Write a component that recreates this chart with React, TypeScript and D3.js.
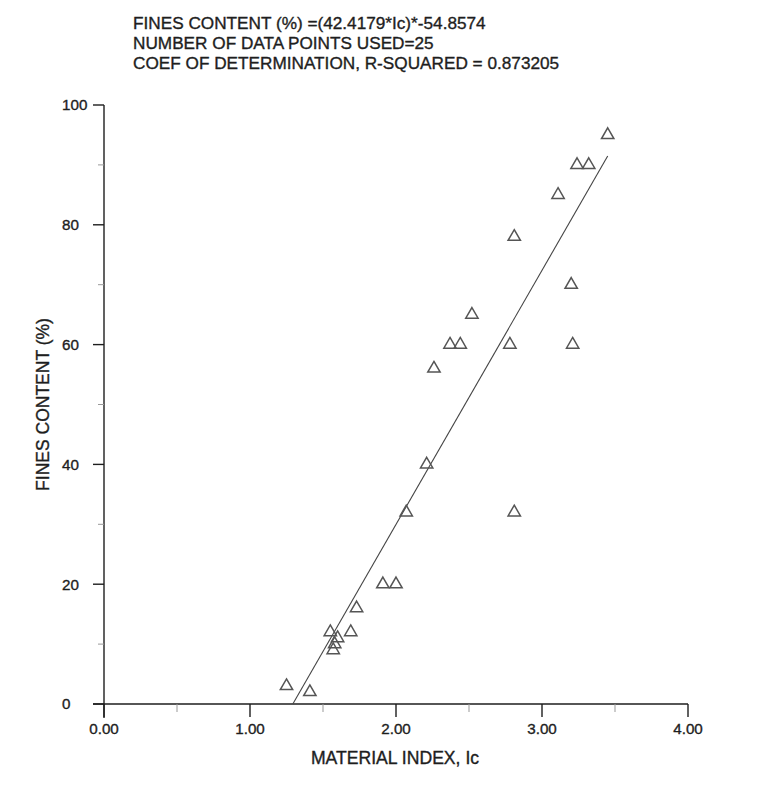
import { scaleLinear, range, symbol, symbolTriangle, line } from "d3";

const width = 768;
const height = 791;

// chart values
const materialIndex = [
  3.45, 3.24, 3.32, 3.11, 2.81, 3.2, 2.52, 2.37, 2.44, 2.78, 3.21, 2.26, 2.21,
  2.07, 2.81, 1.91, 2.0, 1.73, 1.69, 1.55, 1.6, 1.58, 1.57, 1.25, 1.41,
];
const finesContent = [
  95, 90, 90, 85, 78, 70, 65, 60, 60, 60, 60, 56, 40, 32, 32, 20, 20, 16, 12,
  12, 11, 10, 9, 3, 2,
];
const xTicks = [0, 1, 2, 3, 4];
const yTicks = [0, 20, 40, 60, 80, 100];
const headerLines = [
  "FINES CONTENT (%) =(42.4179*Ic)*-54.8574",
  "NUMBER OF DATA POINTS USED=25",
  "COEF OF DETERMINATION, R-SQUARED = 0.873205",
];
const slope = 42.4179;
const intercept = -54.8574;

const font = "'Liberation Sans', Arial, sans-serif";
const ink = "#1e1e1e";

const x = scaleLinear().domain([0, 4]).range([104, 688]);
const y = scaleLinear().domain([0, 100]).range([704, 105]);

// heavy-ish text like the scanned original
const textStyle = {
  fontFamily: font,
  fill: ink,
  stroke: ink,
  strokeWidth: 0.35,
};

const App = () => {
  const tri = symbol().type(symbolTriangle).size(66)()!;
  const x0 = -intercept / slope;
  const x1 = Math.max(...materialIndex);
  const fit = line<number>()
    .x((d) => x(d))
    .y((d) => y(slope * d + intercept));

  return (
    <svg
      width={width}
      height={height}
      style={{ position: "absolute", left: 0, top: 0, background: "#fff" }}
    >
      <g style={textStyle} fontSize={17.2}>
        {headerLines.map((t, i) => (
          <text key={t} x={133} y={29 + i * 20}>
            {t}
          </text>
        ))}
      </g>

      {/* axes */}
      <g stroke={ink} strokeWidth={1.4}>
        <line x1={x(0)} x2={x(0)} y1={y(100)} y2={y(0) + 14} />
        <line x1={x(0) - 11} x2={x(4)} y1={y(0)} y2={y(0)} />
        {yTicks.map((t) => (
          <line key={t} x1={x(0) - 11} x2={x(0)} y1={y(t)} y2={y(t)} />
        ))}
        {xTicks.map((t) => (
          <line key={t} x1={x(t)} x2={x(t)} y1={y(0)} y2={y(0) + 13} />
        ))}
      </g>
      <g stroke="#999" strokeWidth={1}>
        {range(10, 100, 20).map((t) => (
          <line key={t} x1={x(0) - 6} x2={x(0)} y1={y(t)} y2={y(t)} />
        ))}
        {range(0.5, 4, 1).map((t) => (
          <line key={t} x1={x(t)} x2={x(t)} y1={y(0)} y2={y(0) + 8} />
        ))}
      </g>

      <g style={textStyle} fontSize={15.2}>
        {yTicks.map((t) => (
          <text key={t} x={62} y={y(t)} dy="0.35em">
            {t}
          </text>
        ))}
        {xTicks.map((t) => (
          <text key={t} x={x(t)} y={734} textAnchor="middle">
            {t.toFixed(2)}
          </text>
        ))}
      </g>
      <text style={textStyle} fontSize={17.6} textAnchor="middle" x={395} y={764}>
        MATERIAL INDEX, Ic
      </text>
      <text
        style={textStyle}
        fontSize={17.5}
        textAnchor="middle"
        transform={`translate(49, ${y(50)}) rotate(-90)`}
      >
        FINES CONTENT (%)
      </text>

      <path d={fit([x0, x1])!} stroke="#444" strokeWidth={1.1} fill="none" />

      <g fill="none" stroke="#555" strokeWidth={1.5}>
        {materialIndex.map((d, i) => (
          <path
            key={i}
            d={tri}
            transform={`translate(${x(d)}, ${y(finesContent[i])})`}
          />
        ))}
      </g>
    </svg>
  );
};

export default App;
